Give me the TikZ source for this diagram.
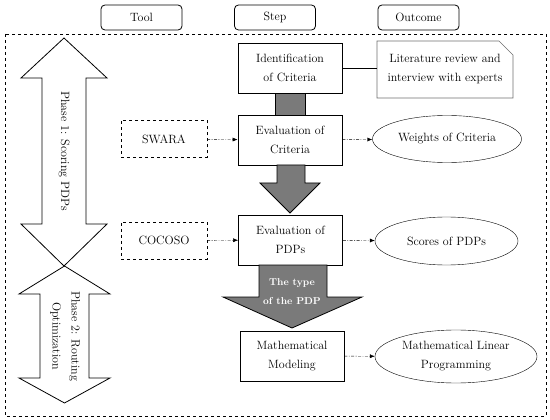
\documentclass[tikz,border=0pt]{standalone}
\usetikzlibrary{shapes.geometric,shapes.misc,arrows.meta}
\definecolor{arrgray}{RGB}{122,122,122}
\definecolor{notegray}{RGB}{110,110,110}
\begin{document}
\begin{tikzpicture}[x=1pt,y=-1pt,
  every node/.style={font=\fontsize{12}{19}\selectfont, align=center},
  hd/.style={draw, thick, rounded corners=4pt, minimum width=81pt, minimum height=25pt},
  stp/.style={draw, thick, minimum width=104pt, minimum height=50pt},
  tl/.style={draw, dashed, minimum width=86pt, minimum height=37pt},
  oc/.style={draw, ellipse, inner sep=0pt},
  dd/.style={dash pattern=on 3pt off 1.5pt on 0.8pt off 1.5pt, -{Latex[length=5pt,width=4pt]}},
  blk/.style={draw, thick, fill=arrgray}]
\useasboundingbox (0,0) rectangle (550,420);
\node[hd] (tid0) at (141.5,17.5){Tool};
\node[hd] (tid1) at (275,17.5){Step};
\node[hd] (tid2) at (418.5,17.5){Outcome};
\draw[dashed, thick] (5,34) rectangle (546,416);
\draw[thick] (64,38) -- (107,78) -- (86,78) -- (86,224) -- (107,224) -- (64,266)
  -- (21,224) -- (42,224) -- (42,78) -- (21,78) -- cycle;
\draw[thick] (64.5,266) -- (110,294) -- (89,294) -- (89,378) -- (110,378) -- (64.5,403)
  -- (19,378) -- (40,378) -- (40,294) -- (19,294) -- cycle;
\node[rotate=-90] (ph1) at (64,151){Phase 1: Scoring PDPs};
\node[rotate=-90] (ph2) at (65,336){Phase 2: Routing\\Optimization};
\node[stp] (st1) at (290,68){Identification\\of Criteria};
\node[stp] (st2) at (290,140){Evaluation of\\Criteria};
\node[stp] (st3) at (290.5,240){Evaluation of\\PDPs};
\node[stp] (st4) at (292,356){Mathematical\\Modeling};
\draw[blk] (275,93) rectangle (305,115);
\draw[blk] (277,165) -- (305,165) -- (305,183) -- (320,183) -- (290,213) -- (260,183) -- (277,183) -- cycle;
\draw[blk] (259,265) -- (327,265) -- (327,297) -- (362,297) -- (292,328) -- (223,297) -- (259,297) -- cycle;
\node[text=white, font=\fontsize{10}{19}\selectfont\bfseries] (typ) at (292,292){The type\\of the PDP};
\node[tl] (tl1) at (164,139){SWARA};
\node[tl] (tl2) at (164,240.5){COCOSO};
\node[draw=notegray, line width=0.7pt, chamfered rectangle, chamfered rectangle corners=north east,
  chamfered rectangle xsep=7pt, chamfered rectangle ysep=7pt,
  minimum width=136pt, minimum height=57pt, inner sep=0pt] (nt) at (445,69.5){Literature review and\\interview with experts};
\node[oc, minimum width=149pt, minimum height=47pt] (oc1) at (447,139){Weights of Criteria};
\node[oc, minimum width=143pt, minimum height=48pt] (oc2) at (446.5,241){Scores of PDPs};
\node[oc, minimum width=162pt, minimum height=53pt] (oc3) at (456,356.5){Mathematical Linear\\Programming};
\draw[] (st1.east) -- (st1.east -| nt.west);
\draw[dd] (tl1) -- (st2);
\draw[dd] (st2) -- (oc1);
\draw[dd] (tl2) -- (st3);
\draw[dd] (st3) -- (oc2);
\draw[dd] (st4) -- (oc3);
\end{tikzpicture}
\end{document}
